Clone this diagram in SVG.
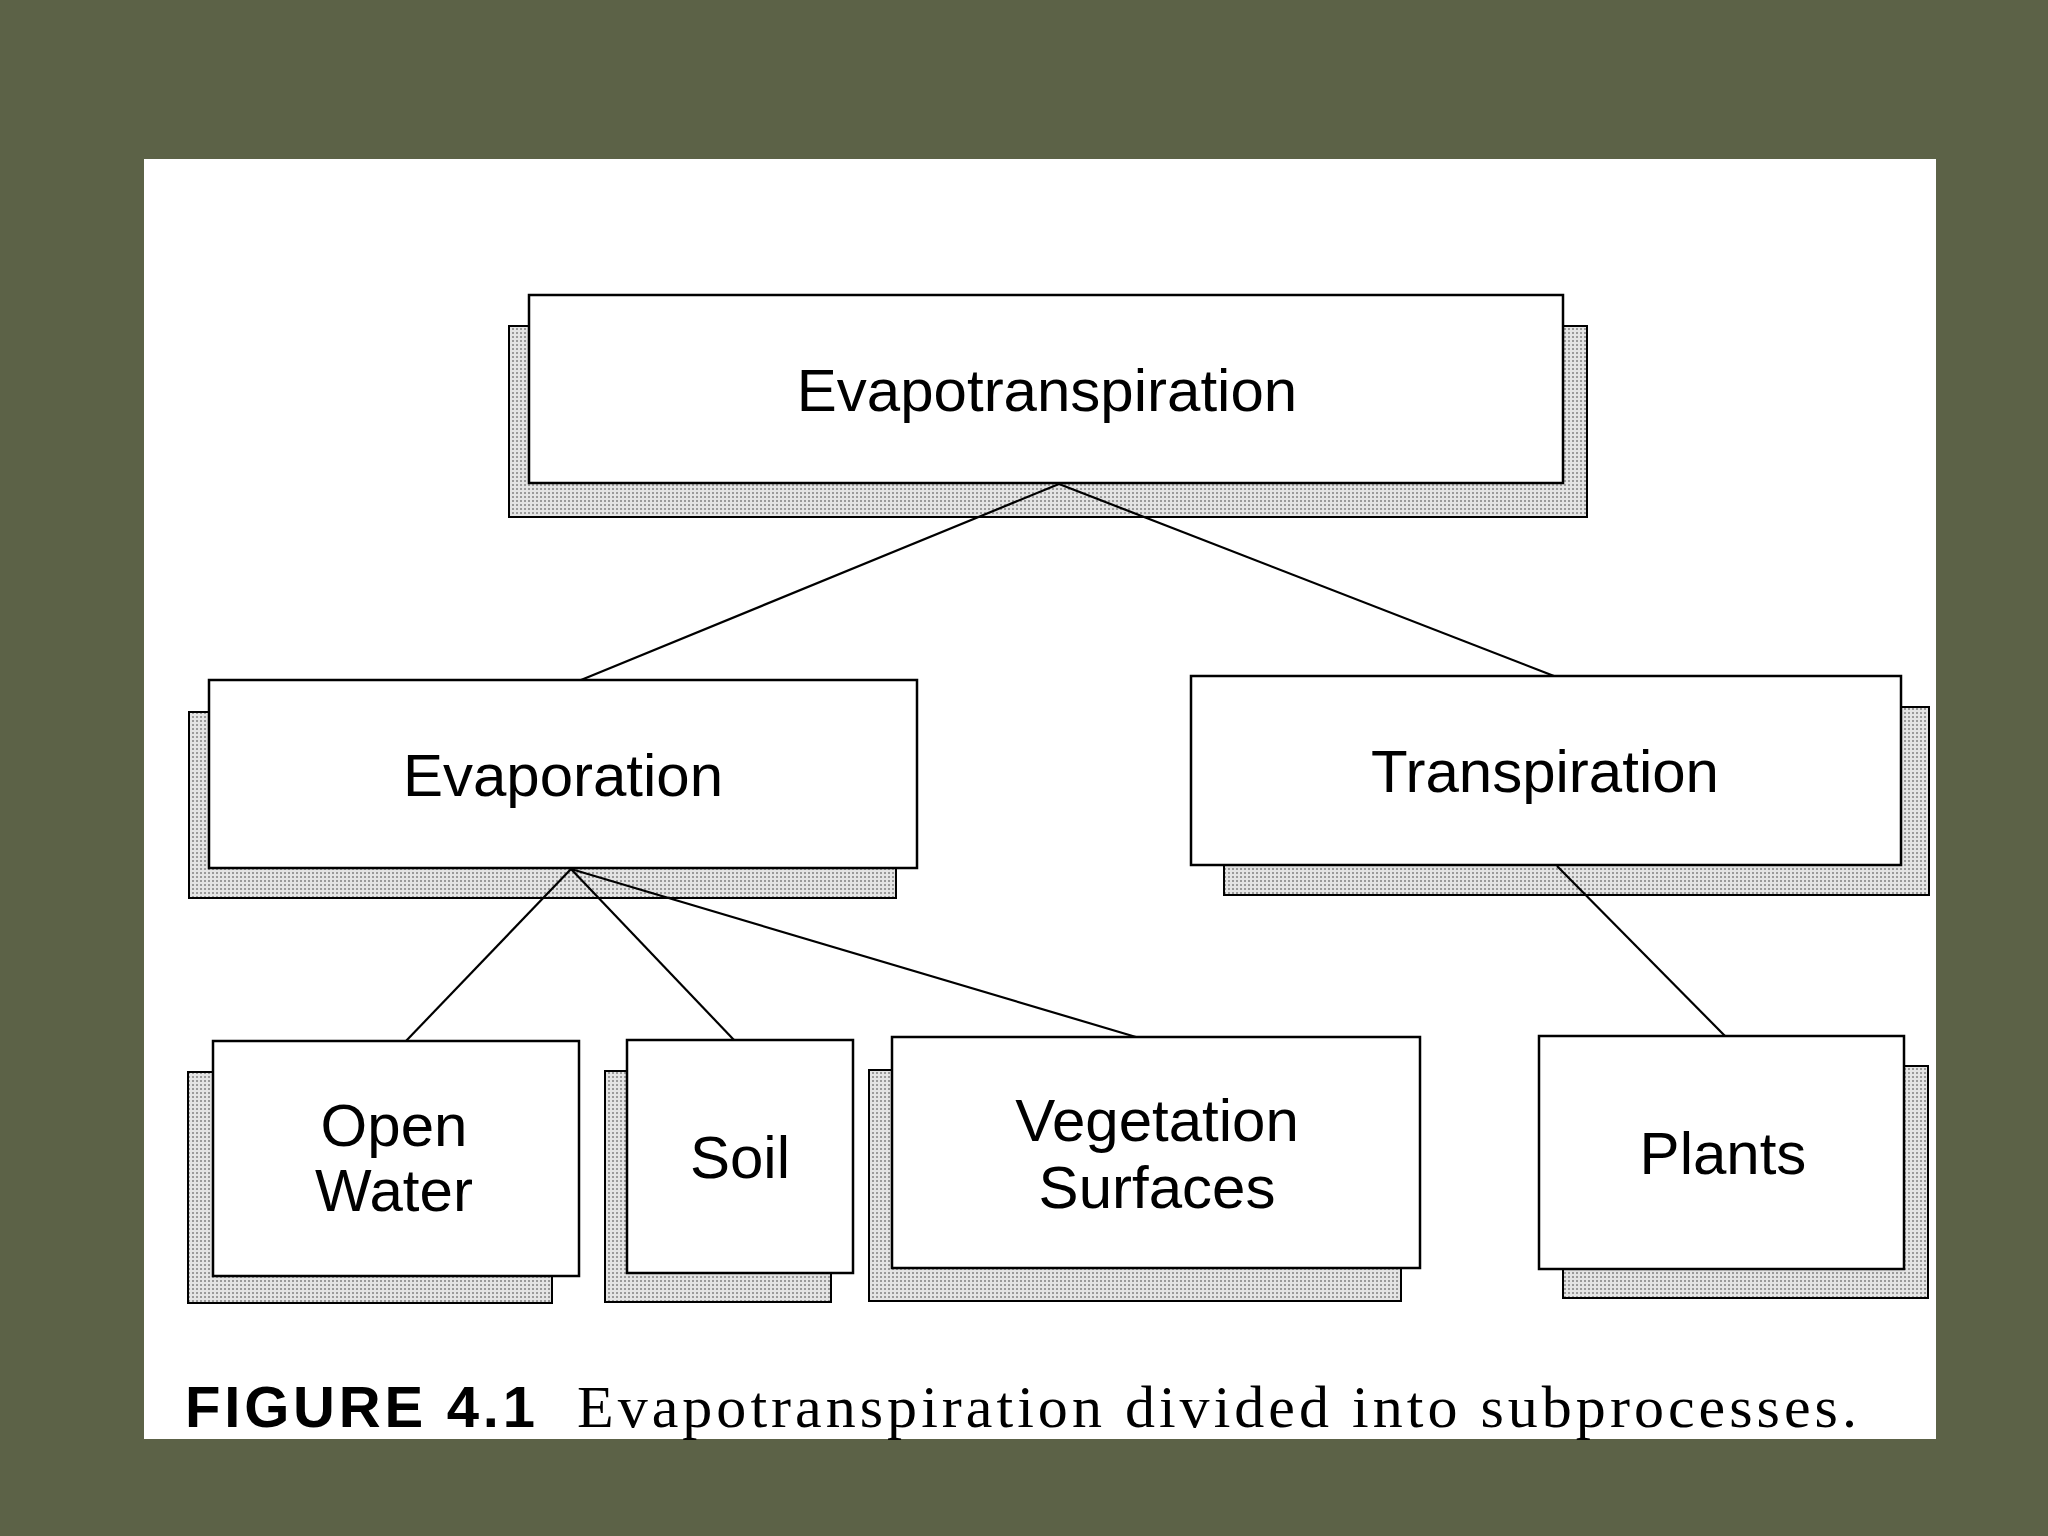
<svg xmlns="http://www.w3.org/2000/svg" width="2048" height="1536" viewBox="0 0 2048 1536">
<style>
.f{fill:#fff;stroke:#000;stroke-width:2.5}
.s{fill:url(#dots);stroke:#000;stroke-width:2}
.t{font-family:"Liberation Sans",Arial,sans-serif;font-size:60px;text-anchor:middle;fill:#000}
.c line{stroke:#000;stroke-width:2.2}
</style>
<defs>
<pattern id="dots" width="4" height="4" patternUnits="userSpaceOnUse">
<rect width="4" height="4" fill="#e4e4e4"/><rect width="2" height="2" fill="#9a9a9a"/>
</pattern>
</defs>
<rect width="2048" height="1536" fill="#5c6247"/>
<rect x="144" y="159" width="1792" height="1280" fill="#fff"/>
<g id="evapotranspiration"><rect class="s" x="509" y="326" width="1078" height="191"/><rect class="f" x="529" y="295" width="1034" height="188"/><text class="t" x="1047" y="411">Evapotranspiration</text></g>
<g id="evaporation"><rect class="s" x="189" y="712" width="707" height="186"/><rect class="f" x="209" y="680" width="708" height="188"/><text class="t" x="563" y="796">Evaporation</text></g>
<g id="transpiration"><rect class="s" x="1224" y="707" width="705" height="188"/><rect class="f" x="1191" y="676" width="710" height="189"/><text class="t" x="1545" y="792">Transpiration</text></g>
<g id="openwater"><rect class="s" x="188" y="1072" width="364" height="231"/><rect class="f" x="213" y="1041" width="366" height="235"/><text class="t" x="394" y="1146">Open</text><text class="t" x="394" y="1211">Water</text></g>
<g id="soil"><rect class="s" x="605" y="1071" width="226" height="231"/><rect class="f" x="627" y="1040" width="226" height="233"/><text class="t" x="740" y="1178">Soil</text></g>
<g id="vegetation"><rect class="s" x="869" y="1070" width="532" height="231"/><rect class="f" x="892" y="1037" width="528" height="231"/><text class="t" x="1157" y="1141">Vegetation</text><text class="t" x="1157" y="1208">Surfaces</text></g>
<g id="plants"><rect class="s" x="1563" y="1066" width="365" height="232"/><rect class="f" x="1539" y="1036" width="365" height="233"/><text class="t" x="1723" y="1174">Plants</text></g>
<g class="c">
<line x1="1059" y1="484" x2="581" y2="680"/>
<line x1="1059" y1="484" x2="1554" y2="676"/>
<line x1="571" y1="869" x2="406" y2="1041"/>
<line x1="571" y1="869" x2="734" y2="1040"/>
<line x1="571" y1="869" x2="1136" y2="1037"/>
<line x1="1557" y1="866" x2="1725" y2="1036"/>
</g>
<text x="185" y="1427" font-family="Liberation Sans,Arial,sans-serif" font-weight="bold" font-size="58" fill="#000" textLength="350">FIGURE 4.1</text>
<text x="577" y="1427" font-family="Liberation Serif,Times New Roman,serif" font-size="60" fill="#000" textLength="1280">Evapotranspiration divided into subprocesses.</text>
</svg>
